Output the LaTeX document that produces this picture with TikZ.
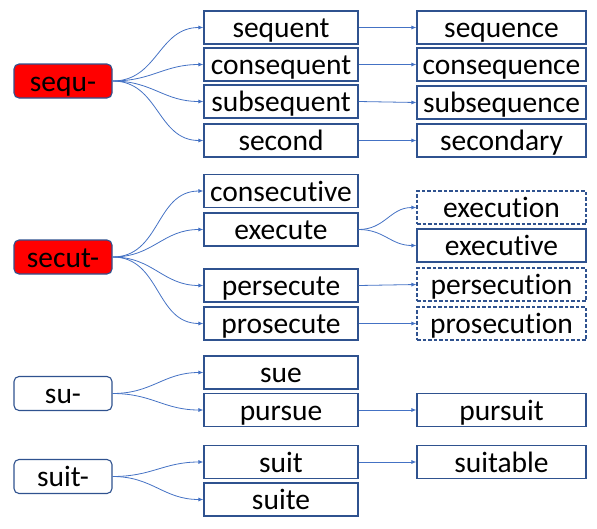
\documentclass[tikz,border=0pt]{standalone}
\usepackage{fontspec}
\setmainfont[Ligatures=NoCommon]{Carlito}
\usetikzlibrary{arrows.meta}
\definecolor{boxblue}{HTML}{2F528F}
\definecolor{lineblue}{HTML}{4472C4}
\definecolor{rootred}{HTML}{FF0000}
\tikzset{
  wbox/.style={draw=boxblue, line width=1.1pt, fill=white, inner sep=0pt,
    minimum height=33pt, text height=23pt, text depth=3pt,
    font=\fontsize{29.5}{31}\selectfont},
  midbox/.style={wbox, minimum width=154pt},
  rbox/.style={wbox, minimum width=169pt},
  dbox/.style={rbox, dash pattern=on 3.5pt off 2pt},
  rootbox/.style={wbox, rounded corners=5pt, minimum width=98pt, minimum height=34pt},
  redroot/.style={rootbox, fill=rootred},
  conn/.style={draw=lineblue, line width=0.8pt, -{Latex[length=5pt,width=4pt]}},
  curv/.style={conn, out=0, in=180, looseness=1.1}
}
\begin{document}
\begin{tikzpicture}[x=1pt,y=-1pt]
\useasboundingbox (0,0) rectangle (597,528);
% roots
\node[redroot] (sequ) at (63,81) {sequ-};
\node[redroot] (secut) at (63,257) {secut-};
\node[rootbox] (su) at (63,393.5) {su-};
\node[rootbox] (suit) at (63,476.5) {suit-};
% middle
\node[midbox] (sequent) at (281,27.5) {sequent};
\node[midbox] (consequent) at (281,64.5) {consequent};
\node[midbox] (subsequent) at (281,101.5) {subsequent};
\node[midbox] (second) at (281,140.5) {second};
\node[midbox] (consecutive) at (281,191) {consecutive};
\node[midbox] (execute) at (281,229.5) {execute};
\node[midbox] (persecute) at (281,285.5) {persecute};
\node[midbox] (prosecute) at (281,323.5) {prosecute};
\node[midbox] (sue) at (281,372.5) {sue};
\node[midbox] (pursue) at (281,410) {pursue};
\node[midbox] (suitw) at (281,462) {suit};
\node[midbox] (suite) at (281,499.5) {suite};
% right
\node[rbox] (sequence) at (501.5,27.5) {sequence};
\node[rbox] (consequence) at (501.5,64.5) {consequence};
\node[rbox] (subsequence) at (501.5,102.5) {subsequence};
\node[rbox] (secondary) at (501.5,140.5) {secondary};
\node[dbox] (execution) at (501.5,207.5) {execution};
\node[rbox] (executive) at (501.5,245.5) {executive};
\node[dbox] (persecution) at (501.5,284.5) {persecution};
\node[dbox] (prosecution) at (501.5,323.5) {prosecution};
\node[rbox] (pursuit) at (501.5,410) {pursuit};
\node[rbox] (suitable) at (501.5,462) {suitable};
% curved connectors
\foreach \t in {sequent,consequent,subsequent,second}
  \draw[curv] (sequ.east) to (\t.west);
\foreach \t in {consecutive,execute,persecute,prosecute}
  \draw[curv] (secut.east) to (\t.west);
\foreach \t in {sue,pursue}
  \draw[curv] (su.east) to (\t.west);
\foreach \t in {suitw,suite}
  \draw[curv] (suit.east) to (\t.west);
\draw[curv] (execute.east) to (execution.west);
\draw[curv] (execute.east) to (executive.west);
% straight connectors
\draw[conn] (sequent.east) -- (sequence.west);
\draw[conn] (consequent.east) -- (consequence.west);
\draw[conn] (subsequent.east) -- (subsequence.west);
\draw[conn] (second.east) -- (secondary.west);
\draw[conn] (persecute.east) -- (persecution.west);
\draw[conn] (prosecute.east) -- (prosecution.west);
\draw[conn] (pursue.east) -- (pursuit.west);
\draw[conn] (suitw.east) -- (suitable.west);
\end{tikzpicture}
\end{document}
